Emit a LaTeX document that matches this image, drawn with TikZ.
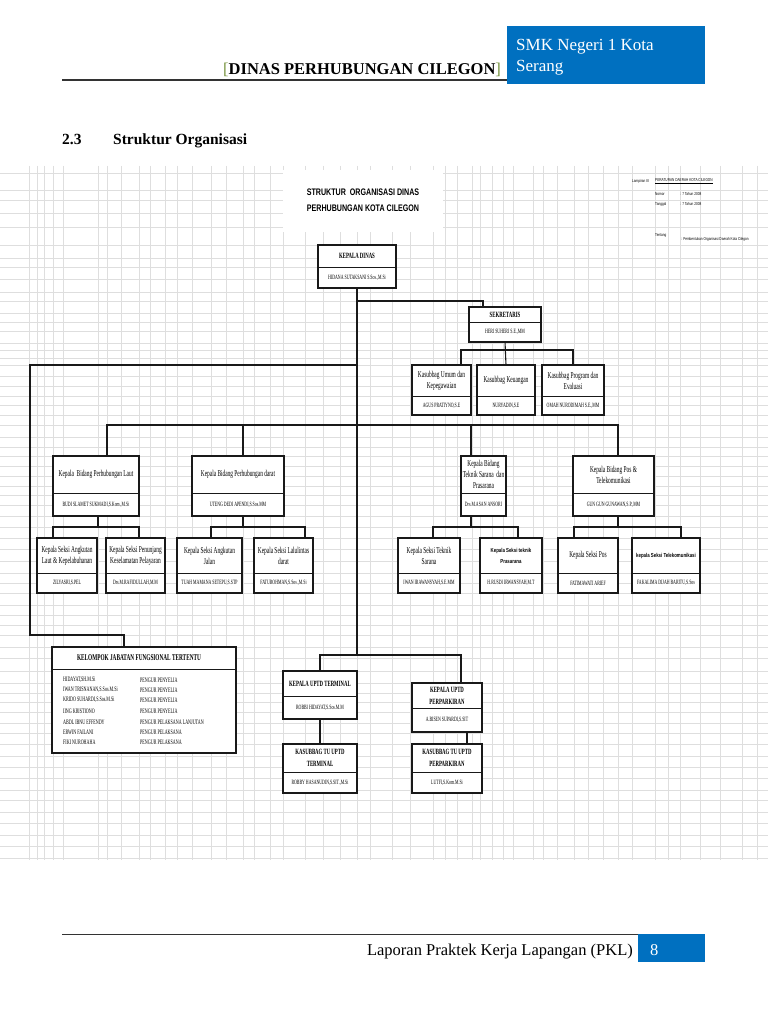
\documentclass[tikz,border=0pt]{standalone}
\usepackage{fontspec}
\setmainfont{Liberation Serif}
\newfontfamily\bxf[FakeStretch=0.6]{Liberation Serif}
\newfontfamily\sxf[FakeStretch=0.75]{Liberation Sans}
\usetikzlibrary{calc}
\definecolor{hdrblue}{RGB}{0,112,192}
\definecolor{brk}{RGB}{118,146,60}
\definecolor{gridc}{RGB}{222,222,222}
\newcommand\OBox[9]{%
  \node[obox, minimum width={(#4-#2)*1pt}, minimum height={(#6-#3)*1pt}] (#1) at ({(#2+#4)/2},{(#3+#6)/2}) {};
  \draw[boxdiv] (#2,#5) -- (#4,#5);
  \node[#7] (#1-l) at ({(#2+#4)/2},{(#3+#5)/2}) {#8};
  \node[nm] (#1-n) at ({(#2+#4)/2},{(#5+#6)/2}) {#9};}
\begin{document}
\begin{tikzpicture}[x=1pt,y=-1pt,
  gridl/.style={draw=gridc, line width=0.7pt},
  obox/.style={draw=black!90, line width=1.1pt, fill=white, rectangle, inner sep=0pt, outer sep=0pt},
  boxdiv/.style={draw=black!90, line width=1pt},
  conn/.style={draw=black!90, line width=1.1pt},
  lbl/.style={font=\bxf\fontsize{9}{11}\selectfont, align=center, inner sep=0pt},
  blbl/.style={font=\bxf\bfseries\fontsize{8}{12}\selectfont, align=center, inner sep=0pt},
  slbl/.style={font=\sxf\bfseries\fontsize{5.8}{11}\selectfont, align=center, inner sep=0pt},
  nm/.style={font=\bxf\fontsize{6.5}{8}\selectfont, inner sep=0pt},
  tiny/.style={font=\sxf\fontsize{4.2}{5}\selectfont, inner sep=0pt, anchor=west},
  kjt/.style={font=\bxf\fontsize{6.8}{7}\selectfont, inner sep=0pt, anchor=west},
]
\useasboundingbox (0,0) rectangle (768,1024);
\fill[white] (0,0) rectangle (768,1024);

% ---------- header ----------
\node[fill=hdrblue, minimum width=198, minimum height=58, anchor=north west, inner sep=0pt] (hbox) at (507,26) {};
\node[anchor=west, inner sep=0pt, text=white, align=left, font=\fontsize{17}{21}\selectfont] (htext) at (516,57) {SMK Negeri 1 Kota\\Serang};
\draw[line width=1.3pt, black!80] (62,80) -- (507,80);
\node[anchor=base west, inner sep=0pt, font=\bfseries\fontsize{16.5}{18}\selectfont] (htitle) at (223,75) {\textcolor{brk}{\mdseries[}DINAS PERHUBUNGAN CILEGON\textcolor{brk}{\mdseries]}};

% ---------- section heading ----------
\node[anchor=base west, inner sep=0pt, font=\bfseries\fontsize{15.5}{18}\selectfont] (secnum) at (62,145) {2.3};
\node[anchor=base west, inner sep=0pt, font=\bfseries\fontsize{15.5}{18}\selectfont] (sectitle) at (113,145) {Struktur Organisasi};

% ---------- spreadsheet grid ----------
\foreach \x in {29,37,44,53,63,98,107,121,139,150,165,177,192,211,226,243,254,270,283,305,323,340,357,370,392,410,433,445,457,472,480,492,503,513,533,543,557,574,588,603,618,632,655,668,680,700,720,742,757}
  \draw[gridl] (\x,166) -- (\x,860);
\foreach \y in {173,190,200,213,227,245,258,267,279,292,301,313,322,331,343,350,358,365,376,386,396,405,415,425,437,447,456,466,476,486,495,505,516,527,538,549,561,573,583,593,605,615,625,635,647,658,671,683,693,702,712,723,733,744,756,767,778,790,800,812,823,835,846,858}
  \draw[gridl] (0,\y) -- (768,\y);
\fill[white] (283,170) rectangle (443,232);

% ---------- title ----------
\node[font=\sxf\bfseries\fontsize{9.5}{16}\selectfont, align=center, inner sep=0pt] (ttl) at (363,200) {STRUKTUR~ ORGANISASI DINAS\\PERHUBUNGAN KOTA CILEGON};

% ---------- legal reference (top right) ----------
\node[tiny] (lamp) at (632,181) {Lampiran III};
\node[tiny] (perda) at (655,181) {\underline{PERATURAN DAERAH KOTA CILEGON}};
\node[tiny] (nomor) at (655,194) {Nomor};
\node[tiny] (nomorv) at (680,194) {: 7 Tahun 2008};
\node[tiny] (tgl) at (655,204) {Tanggal};
\node[tiny] (tglv) at (680,204) {: 7 Tahun 2008};
\node[tiny] (tent) at (655,235) {Tentang};
\node[tiny] (tentv) at (681,239) {: Pembentukan Organisasi Daerah Kota Cilegon};

% ---------- boxes ----------
\OBox{kd}{318}{245}{396}{267}{288}{blbl}{KEPALA DINAS}{HIDANA SUTAKSANI S.Sos.,M.Si}
\OBox{sek}{469}{307}{541}{322}{342}{blbl}{SEKRETARIS}{HERI SUHERI S.E.,MM}
\OBox{ks1}{412}{365}{471}{396}{415}{lbl}{Kasubbag Umum dan\\Kepegawaian}{AGUS PRATIYNO,S.E}
\OBox{ks2}{477}{365}{535}{396}{415}{lbl}{Kasubbag Keuangan}{NURYADIN,S.E}
\OBox{ks3}{542}{365}{604}{396}{415}{lbl}{Kasubbag Program dan\\Evaluasi}{OMAH NURODIMAH S.E.,MM}

\OBox{bd1}{53}{456}{139}{493}{516}{lbl}{Kepala~ Bidang Perhubungan Laut}{BUDI SLAMET SUKMADI,S.Kom.,M.Si}
\OBox{bd2}{192}{456}{284}{493}{516}{lbl}{Kepala Bidang Perhubungan darat}{UTENG DEDI APENDI,S.Sos.MM}
\OBox{bd3}{461}{456}{506}{493}{516}{lbl}{Kepala Bidang\\Teknik Sarana~ dan\\Prasarana}{Drs.M.ASAN ANSORI}
\OBox{bd4}{573}{456}{654}{493}{516}{lbl}{Kepala Bidang Pos \&\\Telekomunikasi}{GUN GUN GUNAWAN,S.P.,MM}

\OBox{ss1}{37}{538}{97}{573}{593}{lbl}{Kepala Seksi Angkutan\\Laut \& Kepelabuhanan}{ZILYASRI,S.PEL}
\OBox{ss2}{106}{538}{165}{573}{593}{lbl}{Kepala Seksi Penunjang\\Keselamatan Pelayaran}{Drs.M.RAFIDULLAH,M.M}
\OBox{ss3}{177}{538}{242}{573}{593}{lbl}{Kepala Seksi Angkutan\\Jalan}{TUAH MAMANA SETEPU,S.STP}
\OBox{ss4}{254}{538}{313}{573}{593}{lbl}{Kepala Seksi Lalulintas\\darat}{FATUROHMAN,S.Sos.,M.Si}
\OBox{ss5}{398}{538}{460}{573}{593}{lbl}{Kepala Seksi Teknik\\Sarana}{IWAN IRAWANSYAH,S.E.MM}
\OBox{ss6}{480}{538}{542}{573}{593}{slbl}{Kepala Seksi teknik\\Prasarana}{H.RUSDI IRWANSYAH,M.T}
\OBox{ss7}{558}{538}{618}{573}{593}{lbl}{Kepala Seksi Pos}{FATIMAWATI ARIEF}
\OBox{ss8}{632}{538}{700}{573}{593}{slbl}{kepala Seksi Telekomunikasi}{FAKALIMA DIJAH BARITU,S.Sos}

\OBox{ut1}{283}{671}{357}{696}{719}{blbl}{KEPALA UPTD TERMINAL}{ROBBI HIDAYAT,S.Sos.M.M}
\OBox{ut2}{412}{683}{482}{708}{732}{blbl}{KEPALA UPTD\\PERPARKIRAN}{A.BISEN SUPARDI,S.SIT}
\OBox{ut3}{283}{744}{357}{772}{793}{blbl}{KASUBBAG TU UPTD\\TERMINAL}{ROBBY HASANUDIN,S.SIT.,M.Si}
\OBox{ut4}{412}{744}{482}{772}{793}{blbl}{KASUBBAG TU UPTD\\PERPARKIRAN}{LUTFI,S.Kom.M.Si}

% ---------- kelompok jabatan fungsional ----------
\node[obox, minimum width=184, minimum height=106] (kjb) at (144,700) {};
\draw[boxdiv] (52,669) -- (236,669);
\node[blbl, font=\bxf\bfseries\fontsize{8.8}{9}\selectfont] (kjtitle) at (139,658) {KELOMPOK JABATAN FUNGSIONAL TERTENTU};
\foreach \y/\a/\b [count=\i] in {680/{HIDAYAT,SH.M.Si}/{PENGUR PENYELIA},
  690/{IWAN TRISNANAN,S.Sos.M.Si}/{PENGUR PENYELIA},
  700/{KRIDO SUHARDI,S.Sos.M.Si}/{PENGUR PENYELIA},
  711/{IING KRISTIONO}/{PENGUR PENYELIA},
  722/{ABDL IBNU EFFENDY}/{PENGUR PELAKSANA LANJUTAN},
  732/{ERWIN FAILANI}/{PENGUR PELAKSANA},
  742/{FIKI NUROHAHA}/{PENGUR PELAKSANA}}
{
  \node[kjt] (kn\i) at (63,\y) {\a};
  \node[kjt] (kp\i) at (140,\y) {\b};
}

% ---------- junction coordinates ----------
\coordinate (jS) at (357,301);
\coordinate (sekIn) at (483,307);
\coordinate (kb1) at (461,350);
\coordinate (kb3) at (573,350);
\coordinate (jL) at (357,365);
\coordinate (L1) at (30,365);
\coordinate (L2) at (30,635);
\coordinate (kjIn) at (124,635);
\coordinate (bb1) at (107,425);
\coordinate (bb2) at (243,425);
\coordinate (bb3) at (471,425);
\coordinate (bb4) at (618,425);
\coordinate (s1t) at (98,527);  \coordinate (s1a) at (53,527);  \coordinate (s1b) at (139,527);
\coordinate (s2t) at (243,527); \coordinate (s2a) at (211,527); \coordinate (s2b) at (305,527);
\coordinate (s3t) at (471,527); \coordinate (s3a) at (433,527); \coordinate (s3b) at (518,527);
\coordinate (s4t) at (618,527); \coordinate (s4a) at (574,527); \coordinate (s4b) at (681,527);
\coordinate (ua) at (320,655);
\coordinate (ub) at (461,655);
\coordinate (uc) at (467,744);

% ---------- connectors ----------
\draw[conn] (kd.south) -- (kd.south |- ua);
\draw[conn] (jS) -| (sekIn);
\draw[conn] (sek.south) -- (ks2.north);
\draw[conn] (ks1.north -| kb1) -- (kb1) -- (kb3) -- (ks3.north -| kb3);
\draw[conn] (jL) -- (L1) -- (L2) -- (kjIn) -- (kjb.north -| kjIn);
\draw[conn] (bd1.north -| bb1) -- (bb1) -- (bb4) -- (bd4.north -| bb4);
\draw[conn] (bb2) -- (bd2.north -| bb2);
\draw[conn] (bb3) -- (bd3.north -| bb3);
\draw[conn] (bd1.south -| s1t) -- (s1t);
\draw[conn] (ss1.north -| s1a) -- (s1a) -- (s1b) -- (ss2.north -| s1b);
\draw[conn] (bd2.south -| s2t) -- (s2t);
\draw[conn] (ss3.north -| s2a) -- (s2a) -- (s2b) -- (ss4.north -| s2b);
\draw[conn] (bd3.south -| s3t) -- (s3t);
\draw[conn] (ss5.north -| s3a) -- (s3a) -- (s3b) -- (ss6.north -| s3b);
\draw[conn] (bd4.south -| s4t) -- (s4t);
\draw[conn] (ss7.north -| s4a) -- (s4a) -- (s4b) -- (ss8.north -| s4b);
\draw[conn] (ut1.north -| ua) -- (ua) -- (ub) -- (ut2.north -| ub);
\draw[conn] (ut1.south -| ua) -- (ut3.north -| ua);
\draw[conn] (ut2.south -| uc) -- (ut4.north -| uc);

% ---------- footer ----------
\draw[line width=0.8pt, black!80] (62,934) -- (705,934);
\node[fill=hdrblue, minimum width=67, minimum height=28, anchor=north west, inner sep=0pt] (fbox) at (638,934) {};
\node[anchor=base west, inner sep=0pt, text=white, font=\fontsize{16.5}{18}\selectfont] (pg) at (650,955) {8};
\node[anchor=base east, inner sep=0pt, font=\fontsize{16.5}{18}\selectfont] (ftext) at (633,955) {Laporan Praktek Kerja Lapangan (PKL)};
\end{tikzpicture}
\end{document}
